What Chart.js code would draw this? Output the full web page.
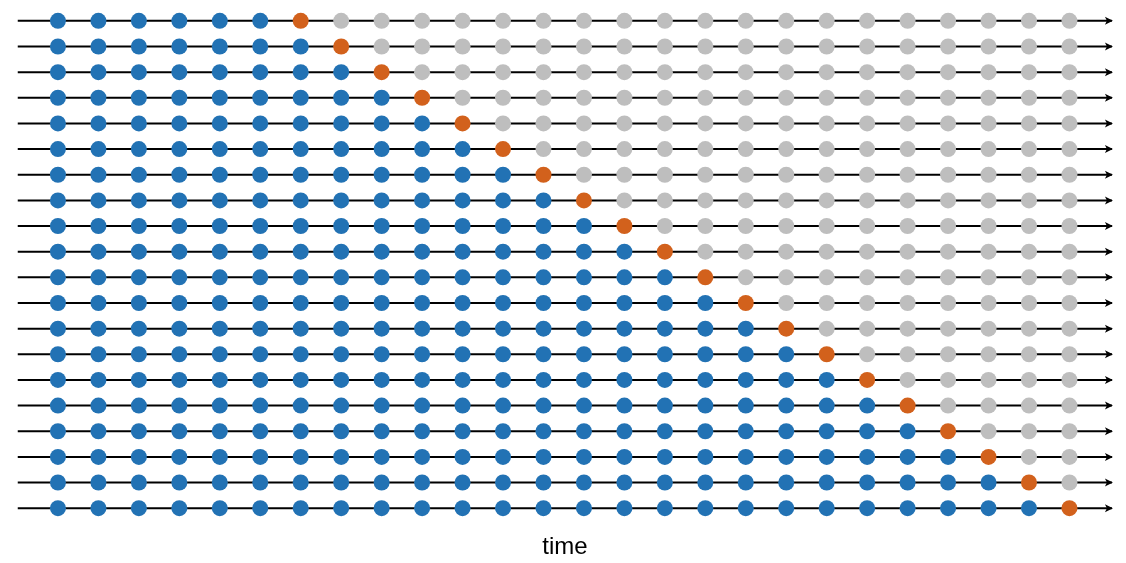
<!DOCTYPE html>
<html lang="en">
<head>
<meta charset="UTF-8">
<title>Time series cross-validation</title>
<script src="https://cdn.jsdelivr.net/npm/chart.js"></script>
<style>
  html, body { margin: 0; background: #fff; }
  #wrap { width: 1126px; height: 563px; }
</style>
</head>
<body>
<div id="wrap"><canvas id="cv"></canvas></div>
<script>
    // one entry per row (fold): how many training points before the test point
    const trainCounts = [6, 7, 8, 9, 10, 11, 12, 13, 14, 15, 16, 17, 18, 19, 20, 21, 22, 23, 24, 25];
    const timeSteps = [1, 2, 3, 4, 5, 6, 7, 8, 9, 10, 11, 12, 13, 14, 15, 16, 17, 18, 19, 20, 21, 22, 23, 24, 25, 26];
    const axisTitle = 'time';
    const lineEnd = 27.05;

    const train = [], test = [], unused = [];
    trainCounts.forEach((n, r) => {
        const row = r + 1;
        timeSteps.forEach(t => {
            if (t <= n) train.push({x: t, y: row});
            else if (t === n + 1) test.push({x: t, y: row});
            else unused.push({x: t, y: row});
        });
    });

    const datasets = [
        {data: test, backgroundColor: '#d2611c', order: 0},
        {data: train, backgroundColor: '#2272b4', order: 0},
        {data: unused, backgroundColor: '#bebebe', order: 0}
    ].map(d => Object.assign(d, {type: 'scatter', pointRadius: 8, pointHoverRadius: 8, borderWidth: 0}));

    trainCounts.forEach((n, r) => {
        datasets.push({
            type: 'line', data: [{x: 0, y: r + 1}, {x: lineEnd, y: r + 1}],
            borderColor: '#000', borderWidth: 2, pointRadius: 0, order: 1
        });
    });

    const arrows = {
        id: 'arrows',
        afterDatasetsDraw(chart) {
            const c = chart.ctx, xs = chart.scales.x, ys = chart.scales.y;
            const x = xs.getPixelForValue(lineEnd);
            c.save();
            c.fillStyle = '#000';
            trainCounts.forEach((n, r) => {
                const y = ys.getPixelForValue(r + 1);
                c.beginPath();
                c.moveTo(x + 1, y);
                c.lineTo(x - 7, y - 4);
                c.lineTo(x - 5, y);
                c.lineTo(x - 7, y + 4);
                c.closePath();
                c.fill();
            });
            c.font = '24px "Liberation Sans", Arial, sans-serif';
            c.textAlign = 'center';
            c.textBaseline = 'middle';
            c.fillText(axisTitle, 565, 547);
            c.restore();
        }
    };

    new Chart(document.getElementById('cv'), {
        type: 'scatter',
        data: {datasets},
        options: {
            responsive: true,
            maintainAspectRatio: false,
            animation: false,
            layout: {padding: {left: 17.5, right: 7.4, top: 5, bottom: 42}},
            plugins: {legend: {display: false}, tooltip: {enabled: false}},
            scales: {
                x: {type: 'linear', min: 0, max: 27.2, display: false},
                y: {type: 'linear', min: 0.5, max: 20.5, reverse: true, display: false}
            }
        },
        plugins: [arrows]
    });
</script>
</body>
</html>
